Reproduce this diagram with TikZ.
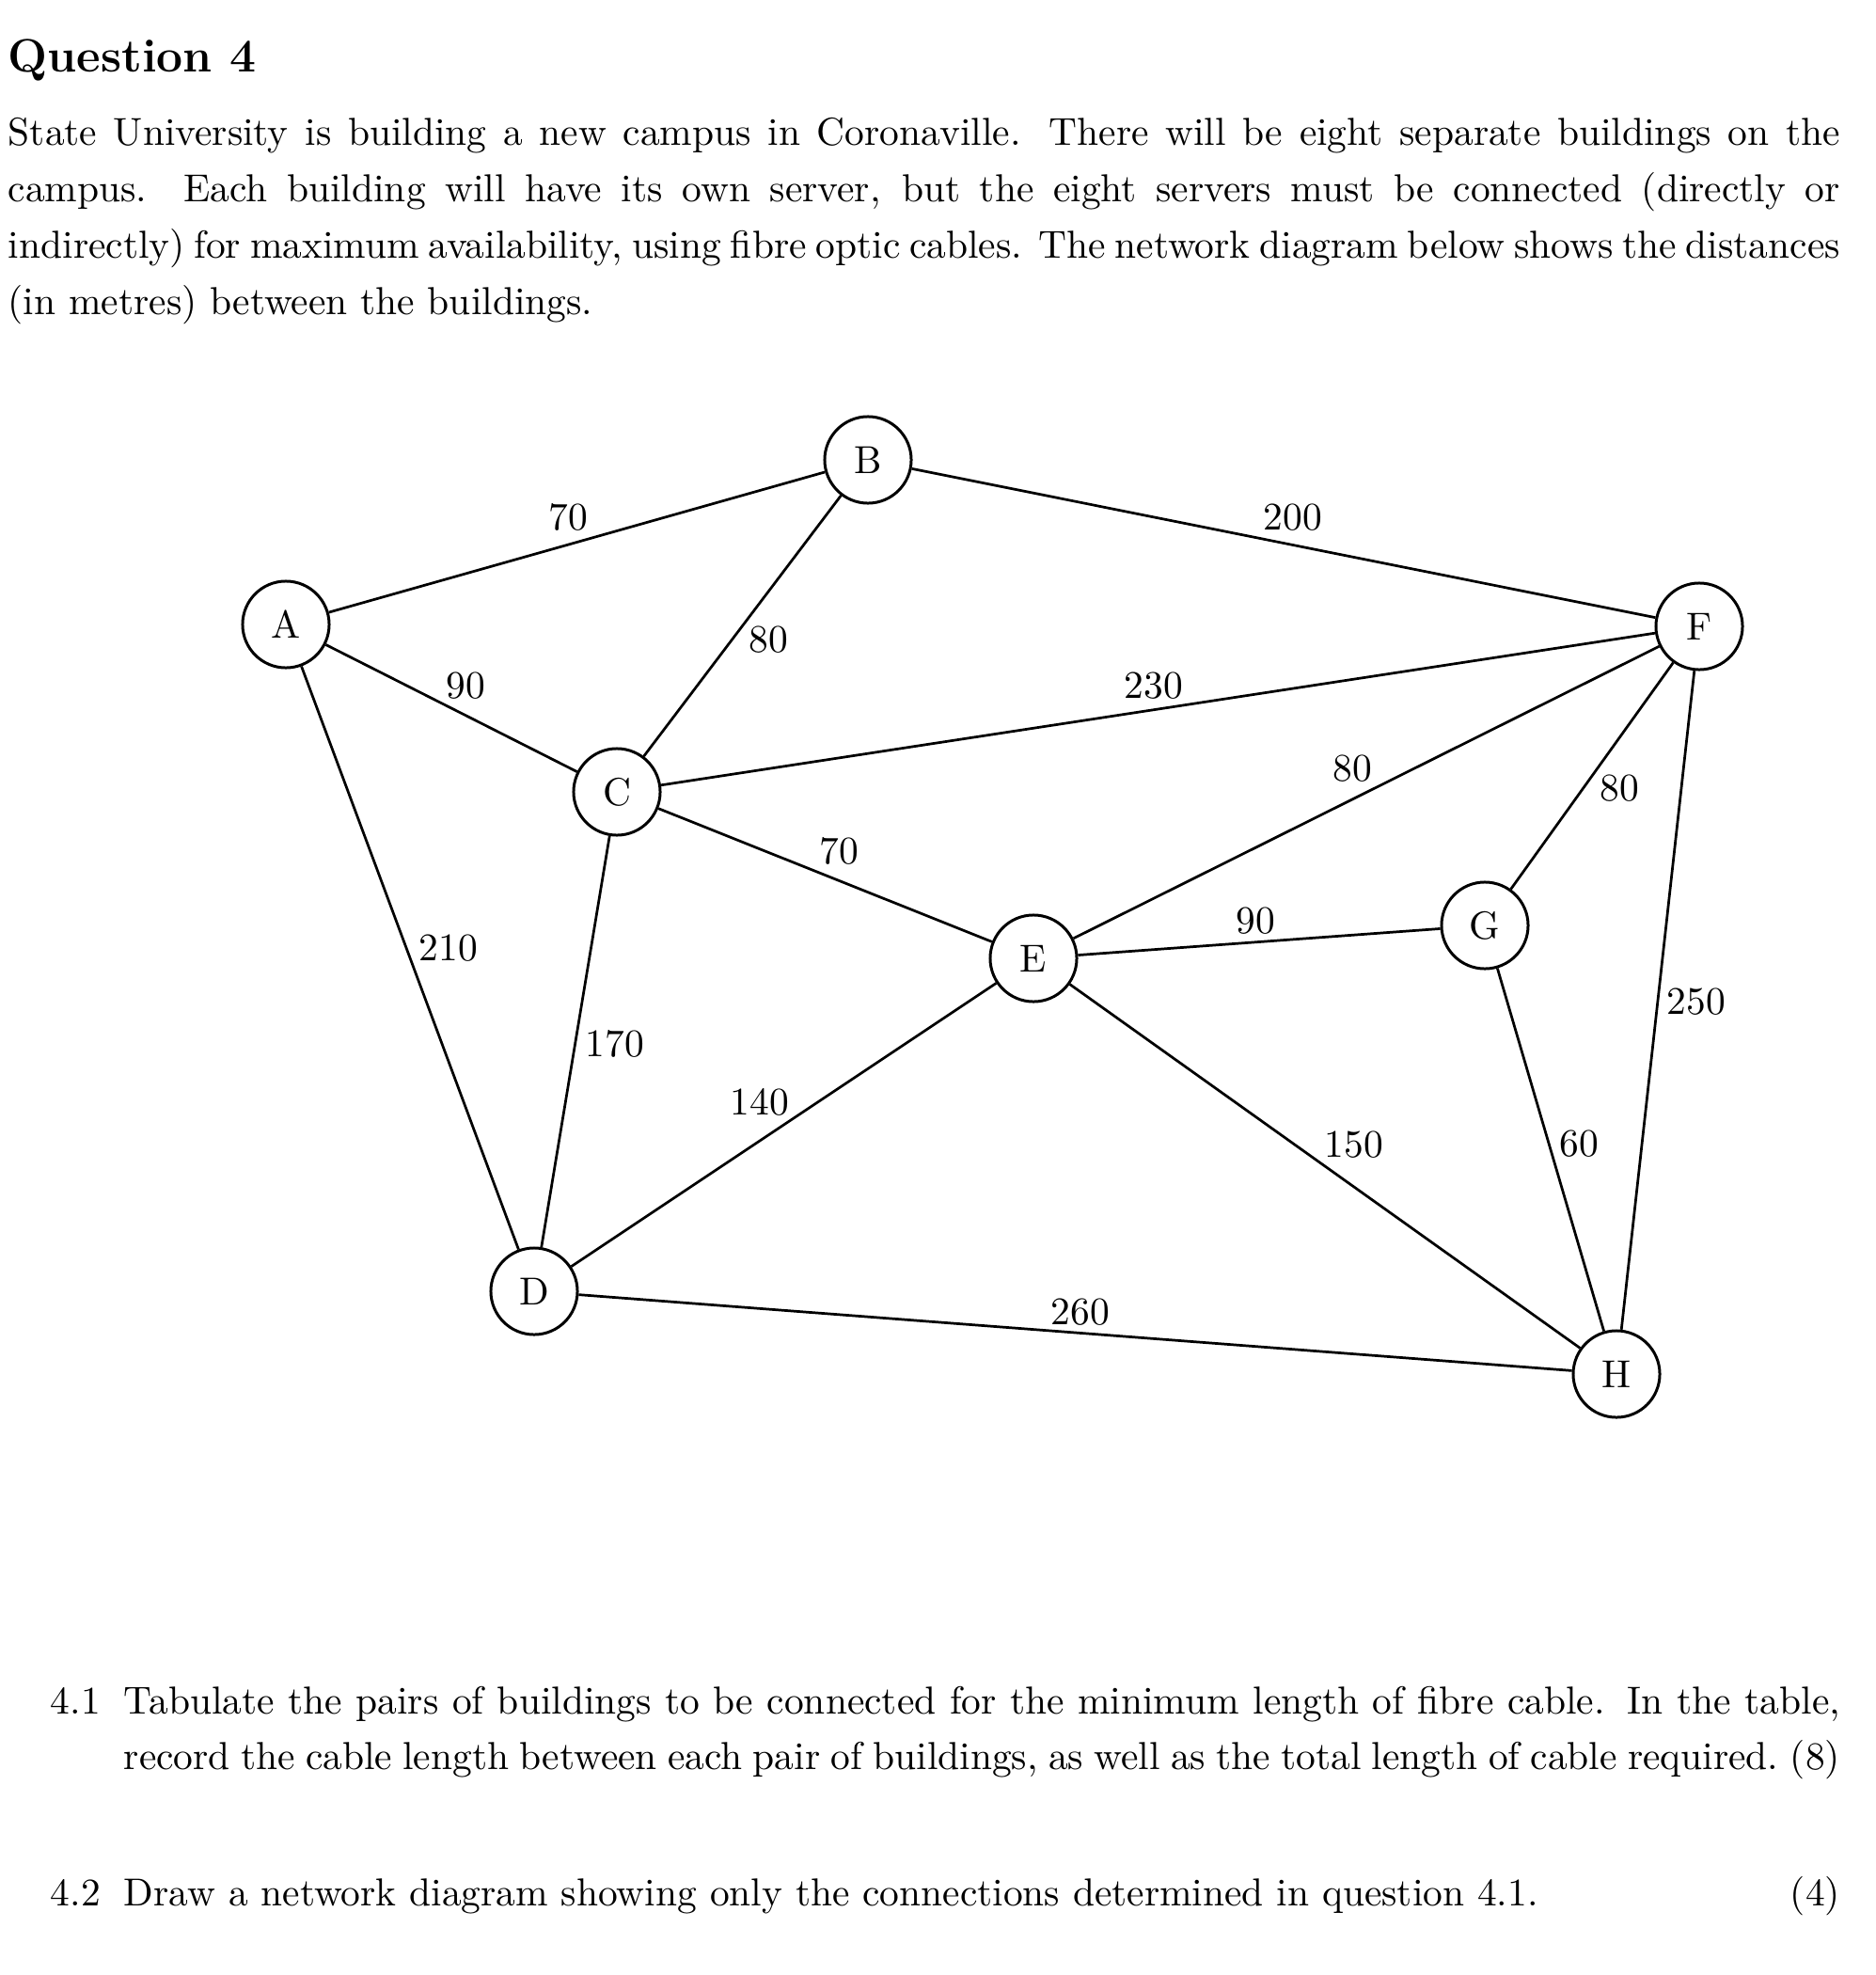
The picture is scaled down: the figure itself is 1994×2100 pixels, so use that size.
\documentclass[tikz,border=0pt]{standalone}
\usepackage{tikz}
\tikzset{
  vtx/.style={circle, draw, line width=0.72pt, minimum size=22.2pt, inner sep=0pt, fill=white},
  lbl/.style={inner sep=0pt},
  edge/.style={line width=0.66pt},
  txt/.style={inner sep=0pt, anchor=base west},
}
\begin{document}
\begin{tikzpicture}[x=0.24114pt, y=-0.24114pt, font=\fontsize{10}{14.4}\selectfont]
\useasboundingbox (0,0) rectangle (1994,2100);

% heading and text
\node[txt] (title) at (8,77) {\fontsize{12}{14}\selectfont\bfseries Question 4};
\node[txt] (intro) at (8,155) {\parbox[t]{469.75pt}{\fontsize{10}{14.4}\selectfont
State University is building a new campus in Coronaville.  There will be eight separate buildings on the\linebreak
campus.  Each building will have its own server, but the eight servers must be connected (directly or\linebreak
indirectly) for maximum availability, using fibre optic cables.  The network diagram below shows the distances\linebreak
(in metres) between the buildings.}};

% vertices
\node[vtx] (A) at (304,664) {A};
\node[vtx] (B) at (923,489) {B};
\node[vtx] (C) at (656,842) {C};
\node[vtx] (D) at (568,1373) {D};
\node[vtx] (E) at (1099,1019) {E};
\node[vtx] (F) at (1807,666) {F};
\node[vtx] (G) at (1579,984) {G};
\node[vtx] (H) at (1719,1461) {H};

% edges
\draw[edge] (A) -- (B);
\draw[edge] (B) -- (F);
\draw[edge] (B) -- (C);
\draw[edge] (A) -- (C);
\draw[edge] (C) -- (F);
\draw[edge] (E) -- (F);
\draw[edge] (G) -- (F);
\draw[edge] (C) -- (E);
\draw[edge] (E) -- (G);
\draw[edge] (A) -- (D);
\draw[edge] (F) -- (H);
\draw[edge] (C) -- (D);
\draw[edge] (D) -- (E);
\draw[edge] (E) -- (H);
\draw[edge] (G) -- (H);
\draw[edge] (D) -- (H);

% edge labels
\node[lbl] (lAB) at (604,550) {70};
\node[lbl] (lBF) at (1375,550) {200};
\node[lbl] (lBC) at (817,680) {80};
\node[lbl] (lAC) at (495,729) {90};
\node[lbl] (lCF) at (1227,729) {230};
\node[lbl] (lEF) at (1438,817) {80};
\node[lbl] (lGF) at (1722,838) {80};
\node[lbl] (lCE) at (892,905) {70};
\node[lbl] (lEG) at (1335,979) {90};
\node[lbl] (lAD) at (477,1008) {210};
\node[lbl] (lFH) at (1804,1065) {250};
\node[lbl] (lCD) at (654,1110) {170};
\node[lbl] (lDE) at (808,1172) {140};
\node[lbl] (lEH) at (1440,1217) {150};
\node[lbl] (lGH) at (1679,1216) {60};
\node[lbl] (lDH) at (1149,1395) {260};

% questions
\node[txt] (q1n) at (53,1822) {4.1};
\node[txt] (q1) at (131,1822) {\parbox[t]{440.1pt}{\fontsize{10}{14.4}\selectfont
\spaceskip=2.9pt plus 2pt minus 0.9pt
Tabulate the pairs of buildings to be connected for the minimum length of fibre cable. In the table,\linebreak
record the cable length between each pair of buildings, as well as the total length of cable required.\nobreak\hfill\nobreak\hspace{3pt}(8)}};
\node[txt] (q2n) at (53,2026) {4.2};
\node[txt] (q2) at (131,2026) {\parbox[t]{440.1pt}{\fontsize{10}{14.4}\selectfont
Draw a network diagram showing only the connections determined in question 4.1.\hfill(4)}};
\end{tikzpicture}
\end{document}
